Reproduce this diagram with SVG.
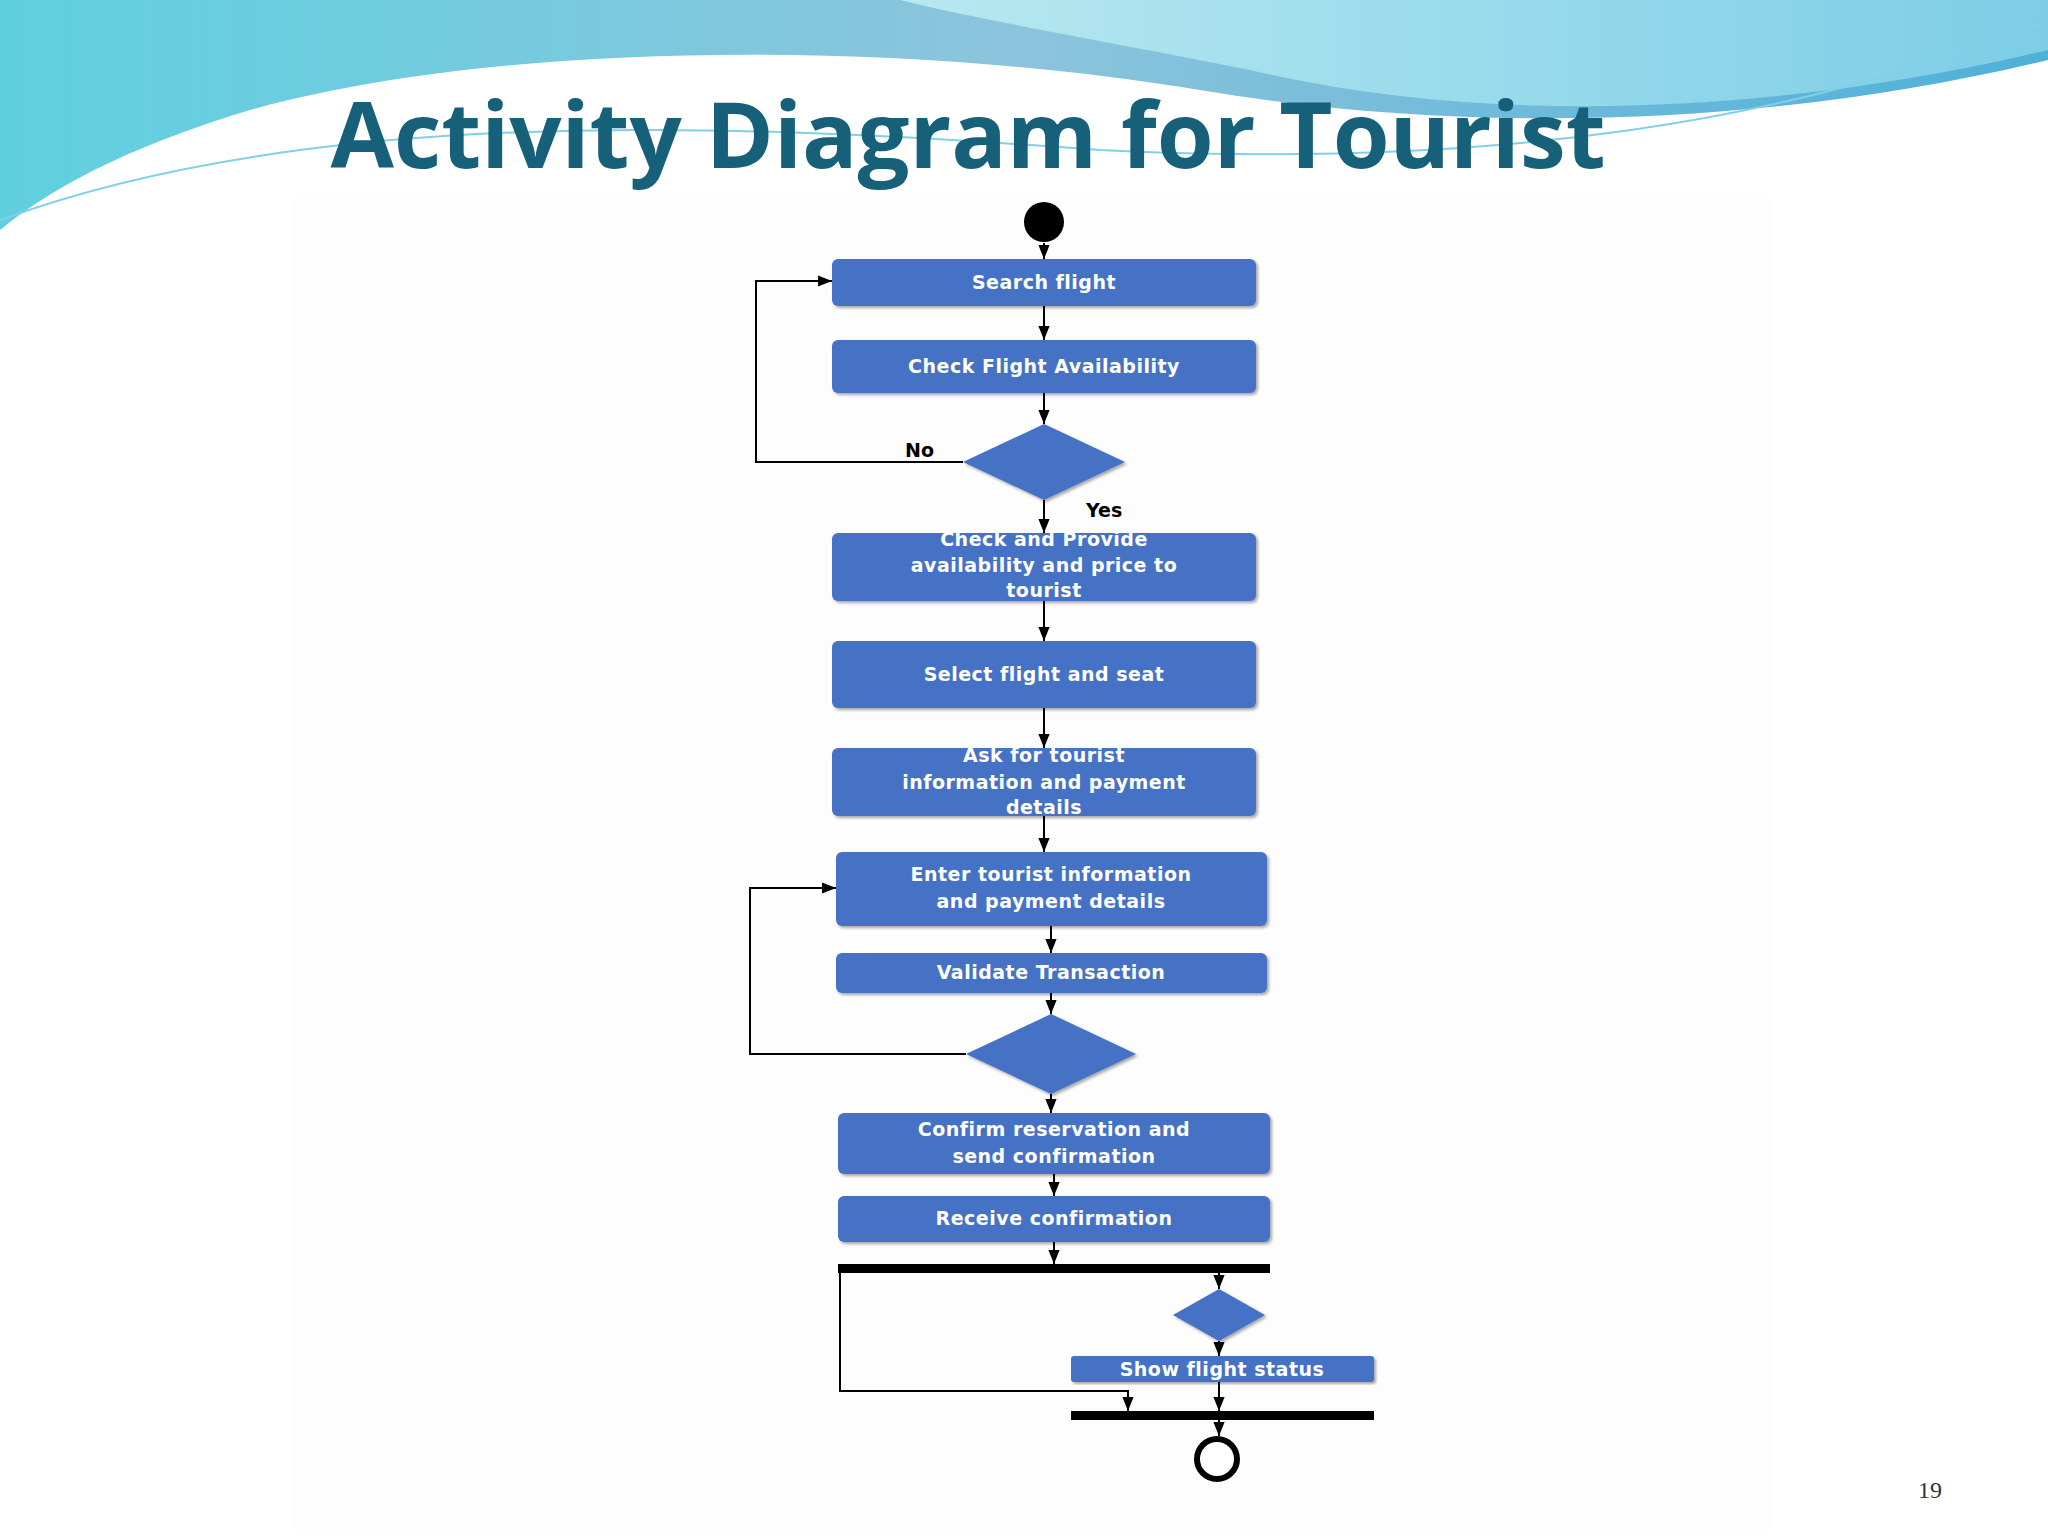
<svg xmlns="http://www.w3.org/2000/svg" width="2048" height="1536" viewBox="0 0 2048 1536">
<defs>
<linearGradient id="w1" x1="0" y1="0" x2="1" y2="0"><stop offset="0" stop-color="#5fd0e0"/><stop offset="0.5" stop-color="#8cc4dc"/><stop offset="1" stop-color="#4fb0d8"/></linearGradient>
<linearGradient id="w2" x1="0" y1="0" x2="1" y2="0"><stop offset="0" stop-color="#b8e8f0"/><stop offset="1" stop-color="#7ccde6"/></linearGradient>
<marker id="ar" viewBox="0 0 10 10" refX="10" refY="5" markerWidth="7" markerHeight="7" orient="auto"><path d="M0,1 L10,5 L0,9 z" fill="#000"/></marker>
<filter id="sh"><feDropShadow dx="2" dy="2" stdDeviation="1.5" flood-color="#000" flood-opacity="0.35"/></filter>
</defs>
<style>
.b{fill:#4472c4;filter:url(#sh)}
.t{font-family:"DejaVu Sans",Verdana,sans-serif;font-weight:bold;font-size:19px;letter-spacing:0.5px;fill:#fff;text-anchor:middle}
.l{font-family:"DejaVu Sans",Verdana,sans-serif;font-weight:bold;font-size:19px;fill:#000}
.c{fill:none;stroke:#000;stroke-width:2}
</style>
<rect width="2048" height="1536" fill="#fff"/>
<path d="M0,0 H2048 V60 C1800,120 1500,140 1200,90 C900,40 500,40 250,110 C150,140 60,180 0,230 Z" fill="url(#w1)"/>
<path d="M900,0 H2048 V50 C1800,110 1500,130 1250,70 C1100,40 980,20 900,0 Z" fill="url(#w2)"/>
<path d="M0,220 C300,110 700,120 1100,150 C1500,170 1800,120 2048,20" fill="none" stroke="#7fd0e8" stroke-width="2"/>
<rect x="290" y="199" width="1484" height="1330" fill="#fdfdfd"/>
<text x="968" y="168" font-family="Open Sans,'Liberation Sans',sans-serif" font-weight="bold" font-size="92" fill="#16607a" text-anchor="middle">Activity Diagram for Tourist</text>
<g id="connectors">
<path class="c" d="M1044,243 V259" marker-end="url(#ar)"/>
<path class="c" d="M1044,306 V340" marker-end="url(#ar)"/>
<path class="c" d="M1044,393 V424" marker-end="url(#ar)"/>
<path class="c" d="M963,462 H756 V281 H832" marker-end="url(#ar)"/>
<path class="c" d="M1044,500 V533" marker-end="url(#ar)"/>
<path class="c" d="M1044,601 V641" marker-end="url(#ar)"/>
<path class="c" d="M1044,708 V748" marker-end="url(#ar)"/>
<path class="c" d="M1044,816 V852" marker-end="url(#ar)"/>
<path class="c" d="M1051,926 V953" marker-end="url(#ar)"/>
<path class="c" d="M1051,993 V1014" marker-end="url(#ar)"/>
<path class="c" d="M966,1054 H750 V888 H836" marker-end="url(#ar)"/>
<path class="c" d="M1051,1094 V1113" marker-end="url(#ar)"/>
<path class="c" d="M1054,1174 V1196" marker-end="url(#ar)"/>
<path class="c" d="M1054,1242 V1264" marker-end="url(#ar)"/>
<path class="c" d="M1219,1273 V1289" marker-end="url(#ar)"/>
<path class="c" d="M1219,1341 V1356" marker-end="url(#ar)"/>
<path class="c" d="M1219,1382 V1411" marker-end="url(#ar)"/>
<path class="c" d="M840,1273 V1391 H1128 V1411" marker-end="url(#ar)"/>
<path class="c" d="M1219,1420 V1436" marker-end="url(#ar)"/>
<text class="l" x="905" y="457">No</text>
<text class="l" x="1086" y="517">Yes</text>
</g>
<g id="start"><circle cx="1044" cy="222" r="20" fill="#000"/></g>
<g id="n1"><rect class="b" x="832" y="259" width="424" height="47" rx="6"/><text class="t" x="1044" y="289">Search flight</text></g>
<g id="n2"><rect class="b" x="832" y="340" width="424" height="53" rx="6"/><text class="t" x="1044" y="373">Check Flight Availability</text></g>
<g id="d1"><polygon class="b" points="1044,424 1125,462 1044,500 963,462"/></g>
<g id="n3"><rect class="b" x="832" y="533" width="424" height="68" rx="6"/><text class="t" x="1044" y="546">Check and Provide</text><text class="t" x="1044" y="572">availability and price to</text><text class="t" x="1044" y="597">tourist</text></g>
<g id="n4"><rect class="b" x="832" y="641" width="424" height="67" rx="6"/><text class="t" x="1044" y="681">Select flight and seat</text></g>
<g id="n5"><rect class="b" x="832" y="748" width="424" height="68" rx="6"/><text class="t" x="1044" y="762">Ask for tourist</text><text class="t" x="1044" y="789">information and payment</text><text class="t" x="1044" y="814">details</text></g>
<g id="n6"><rect class="b" x="836" y="852" width="431" height="74" rx="6"/><text class="t" x="1051" y="881">Enter tourist information</text><text class="t" x="1051" y="908">and payment details</text></g>
<g id="n7"><rect class="b" x="836" y="953" width="431" height="40" rx="6"/><text class="t" x="1051" y="979">Validate Transaction</text></g>
<g id="d2"><polygon class="b" points="1051,1014 1136,1054 1051,1094 966,1054"/></g>
<g id="n8"><rect class="b" x="838" y="1113" width="432" height="61" rx="6"/><text class="t" x="1054" y="1136">Confirm reservation and</text><text class="t" x="1054" y="1163">send confirmation</text></g>
<g id="n9"><rect class="b" x="838" y="1196" width="432" height="46" rx="6"/><text class="t" x="1054" y="1225">Receive confirmation</text></g>
<g id="fork"><rect x="838" y="1264" width="432" height="9" fill="#000"/></g>
<g id="d3"><polygon class="b" points="1219,1289 1265,1315 1219,1341 1173,1315"/></g>
<g id="n10"><rect class="b" x="1071" y="1356" width="303" height="26" rx="3"/><text class="t" x="1222" y="1376">Show flight status</text></g>
<g id="join"><rect x="1071" y="1411" width="303" height="9" fill="#000"/></g>
<g id="end"><circle cx="1217" cy="1459" r="20" fill="#fff" stroke="#000" stroke-width="6"/></g>
<text x="1930" y="1498" font-family="'Liberation Serif',serif" font-size="24" fill="#333" text-anchor="middle">19</text>
</svg>
